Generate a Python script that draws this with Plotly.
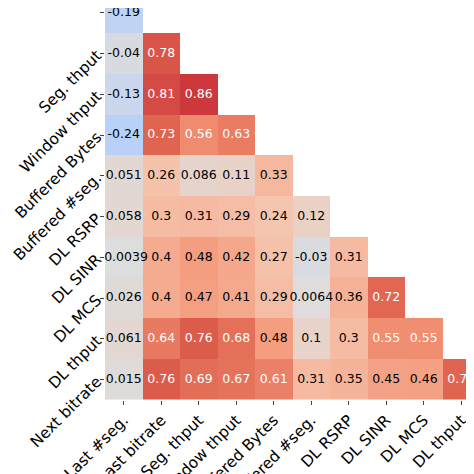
import plotly.graph_objects as go
import numpy as np

rows = ["Last bitrate", "Seg. thput", "Window thput", "Buffered Bytes", "Buffered #seg.",
        "DL RSRP", "DL SINR", "DL MCS", "DL thput", "Next bitrate"]
cols = ["Last #seg.", "Last bitrate", "Seg. thput", "Window thput", "Buffered Bytes",
        "Buffered #seg.", "DL RSRP", "DL SINR", "DL MCS", "DL thput"]
vals = [
    [-0.19],
    [-0.04, 0.78],
    [-0.13, 0.81, 0.86],
    [-0.24, 0.73, 0.56, 0.63],
    [0.051, 0.26, 0.086, 0.11, 0.33],
    [0.058, 0.3, 0.31, 0.29, 0.24, 0.12],
    [-0.0039, 0.4, 0.48, 0.42, 0.27, -0.03, 0.31],
    [0.026, 0.4, 0.47, 0.41, 0.29, 0.0064, 0.36, 0.72],
    [0.061, 0.64, 0.76, 0.68, 0.48, 0.1, 0.3, 0.55, 0.55],
    [0.015, 0.76, 0.69, 0.67, 0.61, 0.31, 0.35, 0.45, 0.46, 0.73],
]

n = len(rows)
z = np.full((n, n), np.nan)
for i, r in enumerate(vals):
    for j, v in enumerate(r):
        z[i, j] = v

coolwarm = [[0.0, "rgb(59,76,192)"], [0.125, "rgb(98,130,234)"], [0.25, "rgb(141,176,254)"],
            [0.375, "rgb(184,208,249)"], [0.5, "rgb(221,221,221)"], [0.625, "rgb(245,196,173)"],
            [0.75, "rgb(244,154,123)"], [0.875, "rgb(222,96,77)"], [1.0, "rgb(180,4,38)"]]

fig = go.Figure(go.Heatmap(z=z, x=list(range(n)), y=list(range(n)), colorscale=coolwarm,
                           zmin=-1, zmax=1, showscale=False, hoverongaps=False))

for light in (True, False):
    xs, ys, ts = [], [], []
    for i, r in enumerate(vals):
        for j, v in enumerate(r):
            if (abs(v) > 0.5) == light:
                xs.append(j); ys.append(i); ts.append(f"{v:.2g}")
    fig.add_trace(go.Scatter(x=xs, y=ys, text=ts, mode="text", cliponaxis=False,
                             textfont=dict(size=12.5, color="white" if light else "black",
                                           family="DejaVu Sans"), showlegend=False))

fig.update_layout(width=474, height=474, margin=dict(l=97, r=2, t=0, b=82),
                  plot_bgcolor="white", paper_bgcolor="white",
                  font=dict(family="DejaVu Sans", size=15.5, color="black"))
fig.update_xaxes(range=[-0.5, 9.5], tickvals=list(range(n)), ticktext=cols, tickangle=-45,
                 showgrid=False, zeroline=False, ticks="outside", ticklen=4, automargin=False)
fig.update_yaxes(range=[9.5, -0.12], tickvals=list(range(n)), ticktext=rows, tickangle=-45,
                 showgrid=False, zeroline=False, ticks="outside", ticklen=4, automargin=False)
fig.write_html("out.html")
